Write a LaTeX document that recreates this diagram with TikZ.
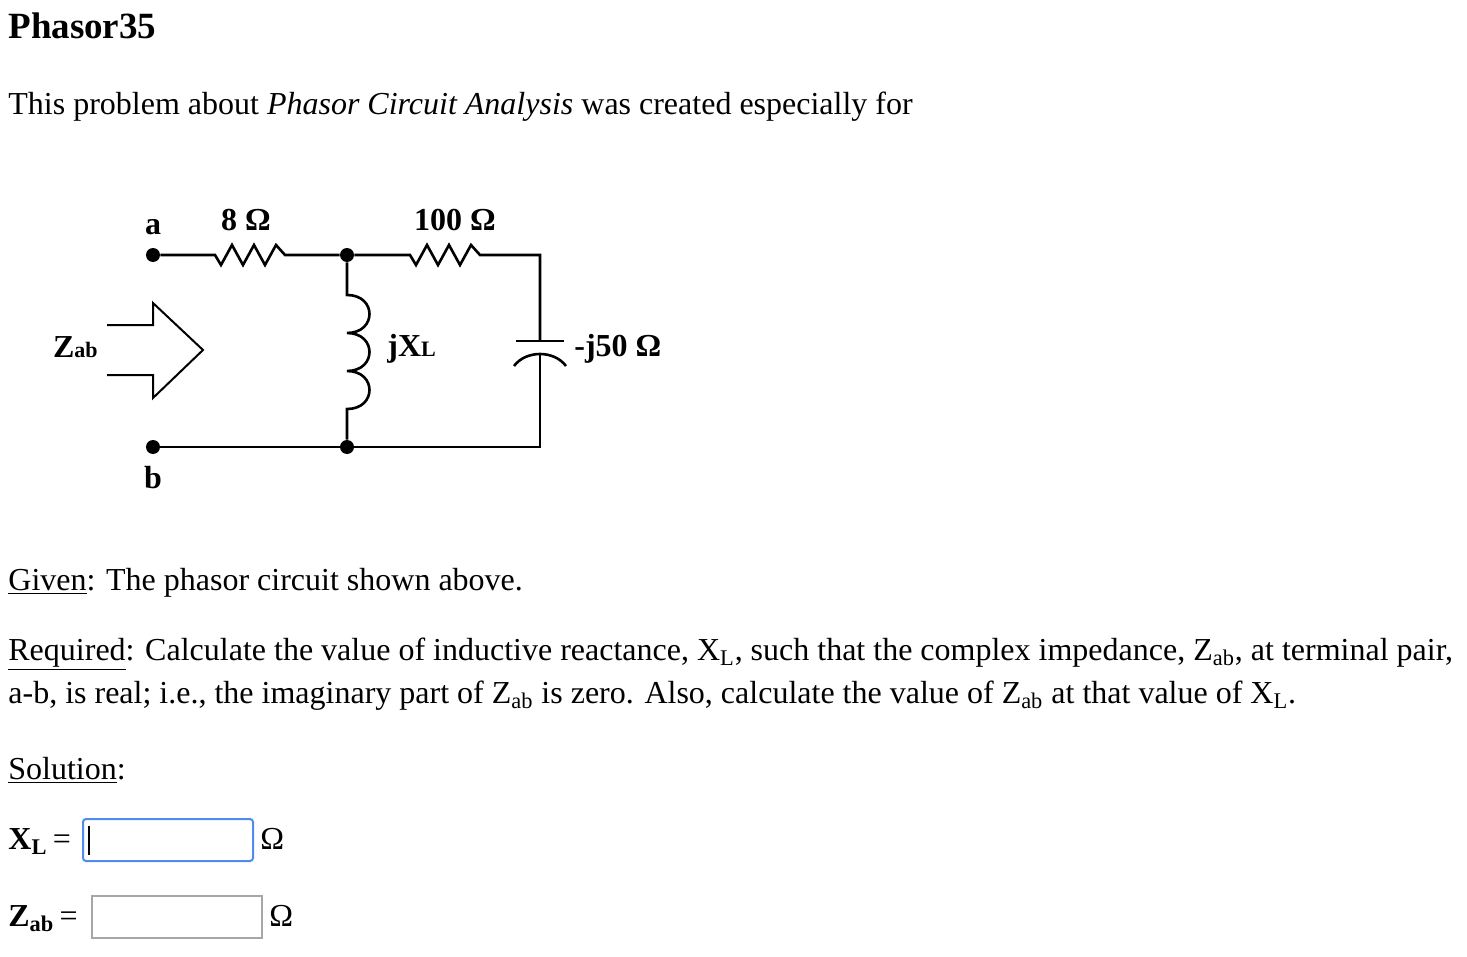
\documentclass[tikz,border=0pt]{standalone}
\usepackage{fontspec}
\setmainfont{Liberation Serif}
\begin{document}
\begin{tikzpicture}[x=0.5pt,y=-0.5pt,
  txt/.style={anchor=base west,inner sep=0pt,font=\fontsize{16}{18}\selectfont},
  lab/.style={inner sep=0pt,font=\fontsize{16}{18}\selectfont\bfseries},
  wire/.style={line width=1.3pt},
  dot/.style={circle,fill,inner sep=0pt,minimum size=7pt}]
\useasboundingbox (0,0) rectangle (1467,957);
% texts
\node[txt,font=\fontsize{18.5}{20}\selectfont\bfseries] (t0) at (8,39) {Phasor35};
\node[txt] (t1) at (8,115) {This problem about \textit{Phasor Circuit Analysis} was created especially for};
\node[txt] (t2) at (8,590) {\underline{Given}: The phasor circuit shown above.};
\node[txt] (t3) at (8,660) {\underline{Required}: Calculate the value of inductive reactance, X\textsubscript{L}, such that the complex impedance, Z\textsubscript{ab}, at terminal pair,};
\node[txt] (t4) at (8,703) {a-b, is real; i.e., the imaginary part of Z\textsubscript{ab} is zero. Also, calculate the value of Z\textsubscript{ab} at that value of X\textsubscript{L}.};
\node[txt] (t5) at (8,779) {\underline{Solution}:};
\node[txt] (xl) at (8,849) {\textbf{X\textsubscript{L}}\,=};
\draw[draw={rgb,255:red,80;green,140;blue,240},line width=1pt,rounded corners=1.5pt] (83,819) rectangle (253,861);
\draw[line width=1.2pt] (89,826) -- (89,855);
\node[txt] (o1) at (260,849) {Ω};
\node[txt] (zab) at (8,926) {\textbf{Z\textsubscript{ab}}\,=};
\draw[draw=black!35,line width=0.8pt] (92,896) rectangle (262,938);
\node[txt] (o2) at (269,926) {Ω};
% circuit
\node[dot] (a) at (153,255) {};
\node[dot] (b) at (153,447) {};
\node[dot] (n1) at (347,255) {};
\node[dot] (n2) at (347,447) {};
\coordinate (c1) at (540,255);
\coordinate (c2) at (540,447);
\draw[wire] (a) -- (215,255) -- (221,265) -- (232,245) -- (243,265) -- (254,245) -- (265,265) -- (276,245) -- (285,255) -- (n1);
\draw[wire] (n1) -- (410,255) -- (416,265) -- (427,245) -- (438,265) -- (449,245) -- (460,265) -- (471,245) -- (480,255) -- (c1) -- (540,341);
\draw[wire] (516,341) -- (564,341);
\draw[wire] (514,366) .. controls (526,350) and (554,350) .. (566,366);
\draw[wire] (540,354) -- (c2) -- (n2) -- (b);
\draw[wire] (n1) -- (347,295)
  .. controls (377,295) and (377,333) .. (347,333)
  .. controls (377,333) and (377,371) .. (347,371)
  .. controls (377,371) and (377,409) .. (347,409) -- (n2);
\draw[line width=1pt] (107,325) -- (153,325) -- (153,303) -- (203,350) -- (153,398) -- (153,375) -- (107,375);
\node[lab] (la) at (153,227) {a};
\node[lab] (lb) at (153,478) {b};
\node[lab] (l8) at (246,220) {8 Ω};
\node[lab] (l100) at (455,220) {100 Ω};
\node[lab,anchor=west] (lj) at (387,349) {jX{\fontsize{11}{12}\selectfont L}};
\node[lab,anchor=west] (lc) at (574,349) {-j50 Ω};
\node[lab,anchor=east] (lz) at (98,347) {Z{\fontsize{11}{12}\selectfont ab}};
\end{tikzpicture}
\end{document}
